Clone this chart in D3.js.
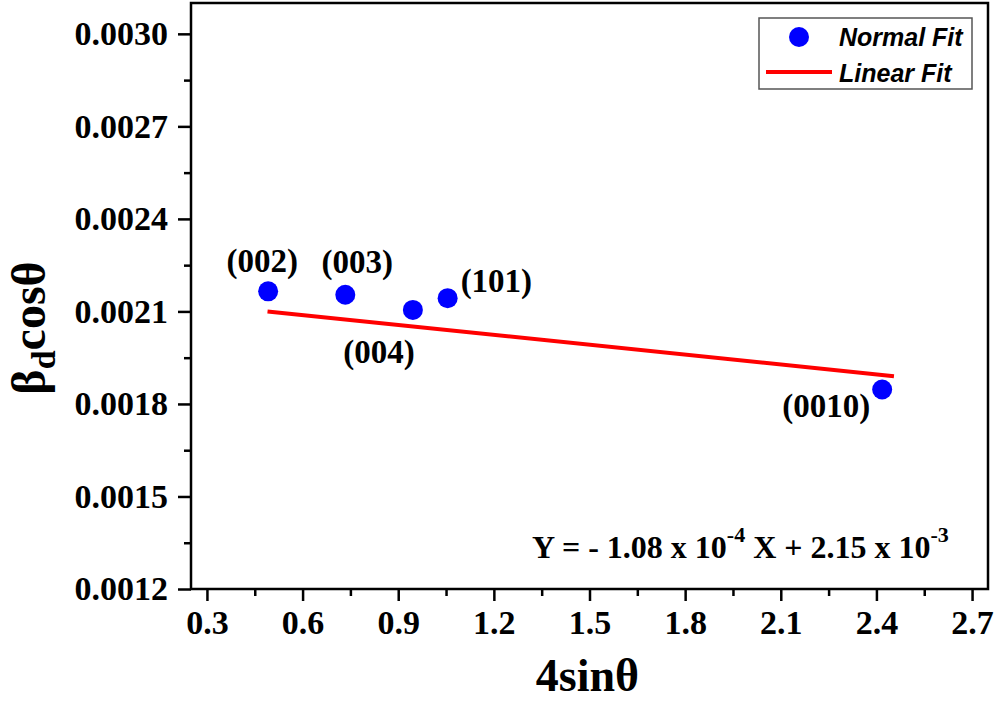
<html>
<meta charset="utf-8">

<head>
    <script src="https://d3js.org/d3.v7.min.js"></script>
    <style>
        body {
            margin: 0;
            background: white;
        }

        .tickLabel text {
            font-family: "Liberation Serif", serif;
            font-weight: bold;
            font-size: 34px;
            fill: black;
        }

        .tickLabel .domain {
            display: none;
        }

        .tickLabel line,
        .minor line {
            stroke: black;
            stroke-width: 2.5;
        }

        .minor .domain {
            display: none;
        }

        .serif {
            font-family: "Liberation Serif", serif;
            font-weight: bold;
        }

        .legendLabel {
            font-family: "Liberation Sans", sans-serif;
            font-weight: bold;
            font-style: italic;
            font-size: 25px;
        }
    </style>
</head>

<body>
    <svg id="chart" width="994" height="702"></svg>

    <script>
        // values
        const xTicks = [0.3, 0.6, 0.9, 1.2, 1.5, 1.8, 2.1, 2.4, 2.7];
        const yTicks = [0.0012, 0.0015, 0.0018, 0.0021, 0.0024, 0.0027, 0.0030];

        const planes = ["(002)", "(003)", "(004)", "(101)", "(0010)"];
        const sinX = [0.492, 0.734, 0.946, 1.055, 2.418];
        const betaCos = [0.002165, 0.002154, 0.002105, 0.002143, 0.001847];

        // linear fit end points
        const fitX = [0.49, 2.455];
        const fitY = [0.0021, 0.00189];

        const legendItems = ["Normal Fit", "Linear Fit"];

        // label offsets from their points (px)
        const labelOffset = {
            "(002)": [-6, -19, "middle"],
            "(003)": [12, -22, "middle"],
            "(004)": [-34, 53, "middle"],
            "(101)": [13, -6, "start"],
            "(0010)": [-56, 28, "middle"]
        };

        const svg = d3.select('svg#chart');
        const margin = { top: 3, right: 6, bottom: 113, left: 191 };
        const chartWidth = 994 - margin.left - margin.right;
        const chartHeight = 702 - margin.top - margin.bottom;

        const xScale = d3.scaleLinear().domain([0.25, 2.75]).range([0, chartWidth]);
        const yScale = d3.scaleLinear().domain([0.0012, 0.0031]).range([chartHeight, 0]);

        const chart = svg.append('g')
            .attr('transform', `translate(${margin.left},${margin.top})`);

        // minor ticks, half way between the labelled ones
        const xMinor = d3.range(xTicks.length - 1).map(i => (xTicks[i] + xTicks[i + 1]) / 2);
        const yMinor = d3.range(yTicks.length - 1).map(i => (yTicks[i] + yTicks[i + 1]) / 2);

        chart.append('g')
            .attr('class', 'minor')
            .attr('transform', `translate(0,${chartHeight})`)
            .call(d3.axisBottom(xScale).tickValues(xMinor).tickSize(7).tickFormat(''));

        chart.append('g')
            .attr('class', 'minor')
            .call(d3.axisLeft(yScale).tickValues(yMinor).tickSize(7).tickFormat(''));

        let bottomAxis = d3.axisBottom(xScale).tickValues(xTicks).tickSize(12).tickPadding(9)
            .tickFormat(d3.format('.1f'));
        chart.append('g')
            .attr('class', 'tickLabel')
            .attr('transform', `translate(0,${chartHeight})`)
            .call(bottomAxis);

        let leftAxis = d3.axisLeft(yScale).tickValues(yTicks).tickSize(13).tickPadding(10)
            .tickFormat(d3.format('.4f'));
        chart.append('g')
            .attr('class', 'tickLabel')
            .call(leftAxis);

        // frame
        chart.append('rect')
            .attr('x', 0).attr('y', 0)
            .attr('width', chartWidth).attr('height', chartHeight)
            .attr('fill', 'none')
            .attr('stroke', 'black')
            .attr('stroke-width', 2.5);

        // fit line
        const lineGen = d3.line()
            .x(d => xScale(d[0]))
            .y(d => yScale(d[1]));

        chart.append('path')
            .datum(fitX.map((x, i) => [x, fitY[i]]))
            .attr('d', lineGen)
            .attr('fill', 'none')
            .attr('stroke', '#ff0000')
            .attr('stroke-width', 4);

        // points
        const points = planes.map((p, i) => ({ plane: p, x: sinX[i], y: betaCos[i] }));

        chart.selectAll('circle.pt')
            .data(points)
            .join('circle')
            .attr('class', 'pt')
            .attr('cx', d => xScale(d.x))
            .attr('cy', d => yScale(d.y))
            .attr('r', 10)
            .attr('fill', '#0000ff');

        chart.selectAll('text.plane')
            .data(points)
            .join('text')
            .attr('class', 'plane serif')
            .attr('x', d => xScale(d.x) + labelOffset[d.plane][0])
            .attr('y', d => yScale(d.y) + labelOffset[d.plane][1])
            .attr('text-anchor', d => labelOffset[d.plane][2])
            .style('font-size', '33px')
            .text(d => d.plane);

        // equation
        const eq = chart.append('text')
            .attr('class', 'serif')
            .attr('x', 341)
            .attr('y', 555)
            .style('font-size', '32px');
        eq.append('tspan').text('Y = - 1.08 x 10');
        eq.append('tspan').attr('dy', -16).style('font-size', '22px').text('-4');
        eq.append('tspan').attr('dy', 16).text(' X + 2.15 x 10');
        eq.append('tspan').attr('dy', -16).style('font-size', '22px').text('-3');

        // legend
        const legend = chart.append('g').attr('transform', `translate(${759 - margin.left},${18 - margin.top})`);
        legend.append('rect')
            .attr('width', 213).attr('height', 71)
            .attr('fill', 'white')
            .attr('stroke', '#555')
            .attr('stroke-width', 1.5);
        legend.append('circle')
            .attr('cx', 40).attr('cy', 19).attr('r', 10)
            .attr('fill', '#0000ff');
        legend.append('line')
            .attr('x1', 7).attr('x2', 73)
            .attr('y1', 54).attr('y2', 54)
            .attr('stroke', '#ff0000')
            .attr('stroke-width', 4);
        legend.selectAll('text.legendLabel')
            .data(legendItems)
            .join('text')
            .attr('class', 'legendLabel')
            .attr('x', 80)
            .attr('y', (d, i) => 28 + i * 36)
            .text(d => d);

        // axis titles
        svg.append('text')
            .attr('class', 'serif')
            .attr('x', margin.left + xScale(1.5) - 2)
            .attr('y', 691)
            .attr('text-anchor', 'middle')
            .style('font-size', '46px')
            .text('4sinθ');

        const yTitle = svg.append('text')
            .attr('class', 'serif')
            .attr('transform', `translate(45,328) rotate(-90)`)
            .attr('text-anchor', 'middle')
            .style('font-size', '48px');
        yTitle.append('tspan').text('β');
        yTitle.append('tspan').attr('dy', 10).style('font-size', '34px').text('d');
        yTitle.append('tspan').attr('dy', -10).text('cosθ');
    </script>
</body>

</html>
